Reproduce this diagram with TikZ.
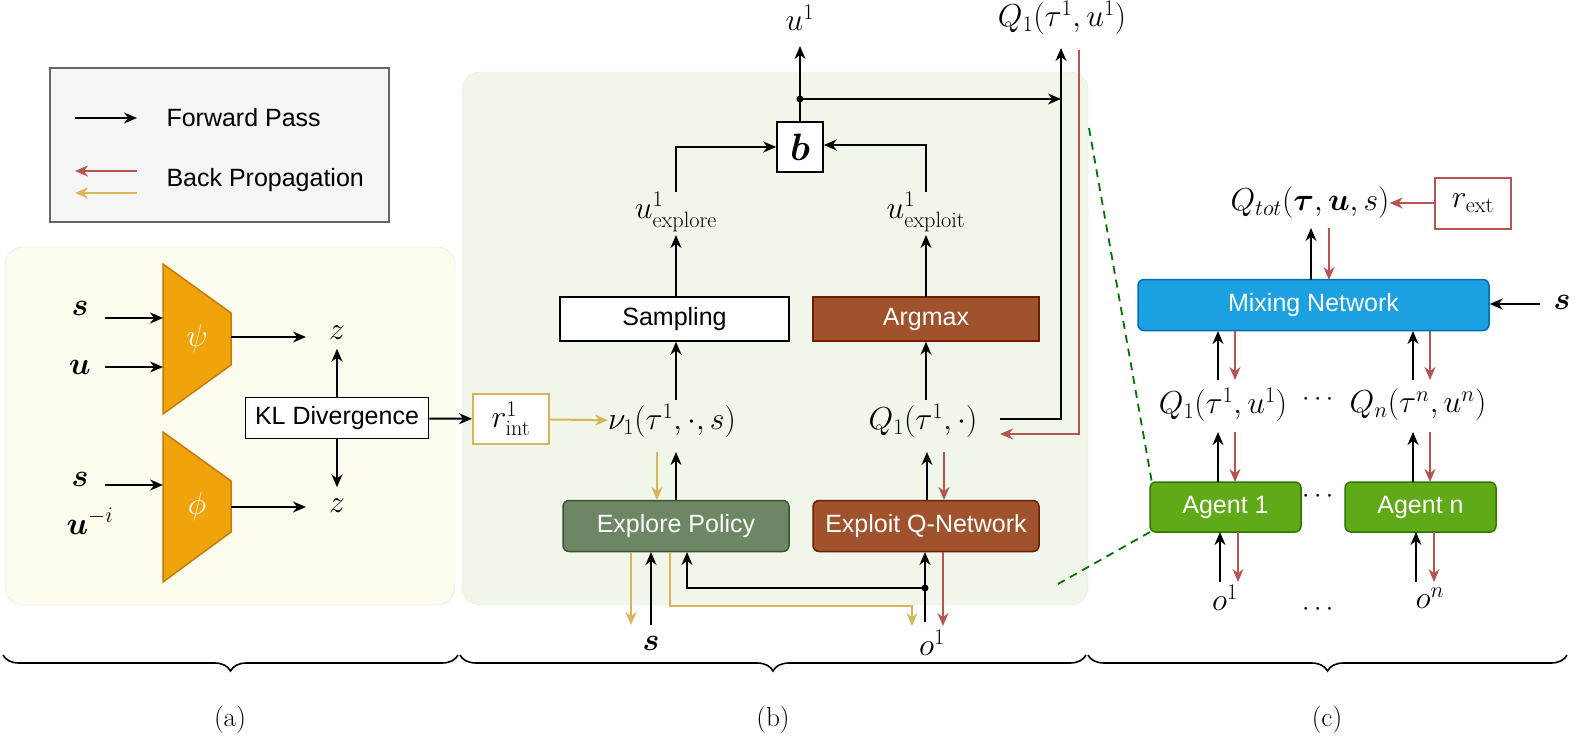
\RequirePackage{fix-cm}
\documentclass[tikz,border=0pt]{standalone}
\usepackage{fontspec}
\usepackage{amsmath,bm,graphicx}
\newfontfamily\sansf{Liberation Sans}
\newcommand\mth[1]{\scalebox{1.27}{$#1$}}
\usetikzlibrary{arrows.meta,decorations.pathreplacing}
\definecolor{ylw}{HTML}{D6B656}
\definecolor{rd}{HTML}{B85450}
\definecolor{pa}{HTML}{FCFBEE}
\definecolor{pb}{HTML}{F0F6EA}
\definecolor{org}{HTML}{F0A30A}
\definecolor{orgd}{HTML}{C77C0A}
\definecolor{brn}{HTML}{A0522D}
\definecolor{brnd}{HTML}{6D1F00}
\definecolor{grn}{HTML}{6D8764}
\definecolor{grnd}{HTML}{3A5431}
\definecolor{lg}{HTML}{60A917}
\definecolor{lgd}{HTML}{2D7600}
\definecolor{bl}{HTML}{1BA1E2}
\definecolor{bld}{HTML}{006EAF}
\begin{document}
\begin{tikzpicture}[x=1pt,y=-1pt,
  fw/.style={line width=2pt,-{Stealth[length=13pt,width=11pt]}},
  bk/.style={line width=2pt,rd,-{Stealth[length=13pt,width=11pt]}},
  by/.style={line width=2pt,ylw,-{Stealth[length=13pt,width=11pt]}},
  m/.style={font=\fontsize{25}{30}\selectfont,inner sep=0pt},
  sbox/.style={draw,line width=1.5pt,font=\sansf\fontsize{25}{30}\selectfont,inner sep=0pt},
  rbox/.style={sbox,rounded corners=6pt,text=white},
  lab/.style={font=\fontsize{21}{24}\selectfont}]
\useasboundingbox (0,0) rectangle (1575,739);
% legend
\node[draw=gray!80!black,fill=gray!8,line width=1.2pt,minimum width=339pt,minimum height=154pt,inner sep=0pt] (leg) at (219.5,145) {};
\coordinate (l1a) at (75,118); \coordinate (l1b) at (137,118);
\coordinate (l2a) at (75,171); \coordinate (l2b) at (137,171);
\coordinate (l3a) at (75,193); \coordinate (l3b) at (137,193);
\draw[fw] (l1a) -- (l1b);
\draw[bk] (l2b) -- (l2a);
\draw[by] (l3b) -- (l3a);
\node[anchor=west,font=\sansf\fontsize{25}{30}\selectfont] (tf) at (163,118) {Forward Pass};
\node[anchor=west,font=\sansf\fontsize{25}{30}\selectfont] (tb) at (163,180) {Back Propagation};
% panels
\node[draw=pa!85!black!60!pa,fill=pa,rounded corners=18pt,minimum width=450pt,minimum height=358pt,inner sep=0pt] (pA) at (230,426) {};
\node[draw=pb!90!black!50!pb,fill=pb,rounded corners=18pt,minimum width=626pt,minimum height=533pt,inner sep=0pt] (pB) at (775,338.5) {};
% (a)
\draw[fill=org,draw=orgd,line width=1.5pt] (163,264) -- (231,313) -- (231,365) -- (163,414) -- cycle;
\draw[fill=org,draw=orgd,line width=1.5pt] (163,432) -- (231,481) -- (231,532) -- (163,582) -- cycle;
\node[m,text=white] (psi) at (197,339) {\mth{\psi}};
\node[m,text=white] (phi) at (197,507) {\mth{\phi}};
\node[m] (s1) at (80,308) {\mth{\bm{s}}};
\node[m] (u1in) at (80,367) {\mth{\bm{u}}};
\node[m] (s2) at (80,479) {\mth{\bm{s}}};
\node[m] (umi) at (90,521) {\mth{\bm{u}^{-i}}};
\coordinate (s1e) at (105,318); \coordinate (s1t) at (163,318);
\coordinate (u1e) at (105,367); \coordinate (u1t) at (163,367);
\coordinate (s2e) at (105,485); \coordinate (s2t) at (163,485);
\draw[fw] (s1e) -- (s1t);
\draw[fw] (u1e) -- (u1t);
\draw[fw] (s2e) -- (s2t);
\node[m] (z1) at (337,333) {\mth{z}};
\node[m] (z2) at (337,506) {\mth{z}};
\coordinate (po) at (231,337); \coordinate (fo) at (231,507);
\coordinate (z1w) at (306,337); \coordinate (z2w) at (306,507);
\draw[fw] (po) -- (z1w);
\draw[fw] (fo) -- (z2w);
\node[sbox,fill=white,minimum width=183pt,minimum height=41pt] (kl) at (337,418) {KL Divergence};
\draw[fw] (kl.north) -- ++(0,-48);
\draw[fw] (kl.south) -- ++(0,48);
\node[draw=ylw,line width=2pt,fill=white,minimum width=76pt,minimum height=50pt,inner sep=0pt,font=\fontsize{25}{30}\selectfont] (rint) at (511,419) {\mth{r^1_{\text{int}}}};
\draw[fw] (kl) -- (rint);
% (b)
\node[m] (nu) at (672,421) {\mth{\nu_1(\tau^1,\cdot,s)}};
\node[m] (q1d) at (923,421) {\mth{Q_1(\tau^1,\cdot)}};
\draw[by] (rint) -- (nu);
\node[sbox,fill=white,minimum width=229pt,minimum height=44pt] (samp) at (674.5,319) {Sampling};
\node[rbox,fill=brn,draw=brnd,rounded corners=0pt,minimum width=226pt,minimum height=44pt] (argm) at (926,319) {Argmax};
\node[rbox,fill=grn,draw=grnd,minimum width=226pt,minimum height=51pt] (expl) at (676,526) {Explore Policy};
\node[rbox,fill=brn,draw=brnd,minimum width=226pt,minimum height=51pt] (expq) at (926,526) {Exploit Q-Network};
\node[m] (uex) at (676,212) {\mth{u^1_{\text{explore}}}};
\node[m] (uexp) at (926,212) {\mth{u^1_{\text{exploit}}}};
\node[draw,line width=1.6pt,fill=white,minimum width=46pt,minimum height=50pt,inner sep=0pt,font=\fontsize{30}{34}\selectfont] (b) at (800,147) {\mth{\bm{b}}};
\node[m] (u1) at (800,18) {\mth{u^1}};
\node[m] (q1u) at (1062,18) {\mth{Q_1(\tau^1,u^1)}};
\draw[fw] (676,297) -- (676,235);
\draw[fw] (926,297) -- (926,235);
\draw[fw] (676,192) -- (676,147) -- (b.west);
\draw[fw] (926,192) -- (926,145) -- (b.east |- 0,145);
\coordinate (bd) at (800,99);
\draw[fw] (b.north) -- (800,46);
\fill (bd) circle (3.5pt);
\coordinate (qx) at (1061,99);
\draw[fw] (bd) -- (qx);
\coordinate (q1r) at (1000,419);
\draw[fw] (q1r) -- (1061,419) -- (1061,48);
\draw[bk] (1079,50) -- (1079,434) -- (1000,434);
\draw[fw] (676,400) -- (samp.south -| 676,0);
\draw[fw] (926,400) -- (argm.south);
\draw[by] (657,452) -- (657,500);
\draw[fw] (676,500) -- (676,452);
\draw[fw] (927,500) -- (927,452);
\draw[bk] (944,452) -- (944,500);
\node[m] (sb) at (651,643) {\mth{\bm{s}}};
\node[m] (o1) at (932,643) {\mth{o^1}};
\draw[by] (631,552) -- (631,625);
\draw[fw] (651,625) -- (651,552);
\draw[by] (670,552) -- (670,606) -- (912,606) -- (912,626);
\draw[fw] (925,622) -- (925,552);
\fill (925,588) circle (3.5pt);
\draw[fw] (925,588) -- (687,588) -- (687,552);
\draw[bk] (943,552) -- (943,626);
% (c)
\draw[green!45!black,line width=1.8pt,dash pattern=on 8pt off 6pt] (1089,128) -- (1152,483);
\draw[green!45!black,line width=1.8pt,dash pattern=on 8pt off 6pt] (1150,532) -- (1058,584);
\node[rbox,fill=bl,draw=bld,minimum width=351pt,minimum height=51pt] (mix) at (1313.5,305) {Mixing Network};
\node[m] (qtot) at (1310,203) {\mth{Q_{tot}(\bm{\tau},\bm{u},s)}};
\node[draw=rd,line width=2pt,minimum width=76pt,minimum height=51pt,inner sep=0pt,font=\fontsize{25}{30}\selectfont] (rext) at (1473,203) {\mth{r_{\text{ext}}}};
\draw[bk] (rext) -- (qtot);
\draw[fw] (1311,280) -- (1311,228);
\draw[bk] (1329,228) -- (1329,280);
\node[m] (sc) at (1562,302) {\mth{\bm{s}}};
\draw[fw] (1540,304) -- (mix.east |- 0,304);
\node[m] (qa) at (1223,405) {\mth{Q_1(\tau^1,u^1)}};
\node[m] (qn) at (1418,405) {\mth{Q_n(\tau^n,u^n)}};
\node[lab] (d1) at (1320,400) {\mth{\cdots}};
\node[rbox,fill=lg,draw=lgd,minimum width=151pt,minimum height=50pt] (ag1) at (1225.5,507) {Agent 1};
\node[rbox,fill=lg,draw=lgd,minimum width=151pt,minimum height=50pt] (agn) at (1420.5,507) {Agent n};
\node[lab] (d2) at (1320,497) {\mth{\cdots}};
\draw[fw] (1218,380) -- (1218,331);
\draw[bk] (1235,331) -- (1235,380);
\draw[fw] (1413,380) -- (1413,331);
\draw[bk] (1430,331) -- (1430,380);
\draw[fw] (1218,482) -- (1218,432);
\draw[bk] (1235,432) -- (1235,482);
\draw[fw] (1413,482) -- (1413,432);
\draw[bk] (1430,432) -- (1430,482);
\node[m] (oa) at (1225,598) {\mth{o^1}};
\node[m] (on) at (1430,598) {\mth{o^n}};
\node[lab] (d3) at (1320,610) {\mth{\cdots}};
\draw[fw] (1220,582) -- (1220,532);
\draw[bk] (1238,532) -- (1238,582);
\draw[fw] (1416,582) -- (1416,532);
\draw[bk] (1434,532) -- (1434,582);
% braces
\draw[decorate,decoration={brace,mirror,amplitude=16pt},line width=1.6pt] (3,655) -- (458,655);
\draw[decorate,decoration={brace,mirror,amplitude=16pt},line width=1.6pt] (460,655) -- (1086,655);
\draw[decorate,decoration={brace,mirror,amplitude=16pt},line width=1.6pt] (1088,655) -- (1567,655);
\node[lab] (la) at (230,720) {\scalebox{1.3}{(a)}};
\node[lab] (lb) at (773,720) {\scalebox{1.3}{(b)}};
\node[lab] (lc) at (1327,720) {\scalebox{1.3}{(c)}};
\end{tikzpicture}
\end{document}
